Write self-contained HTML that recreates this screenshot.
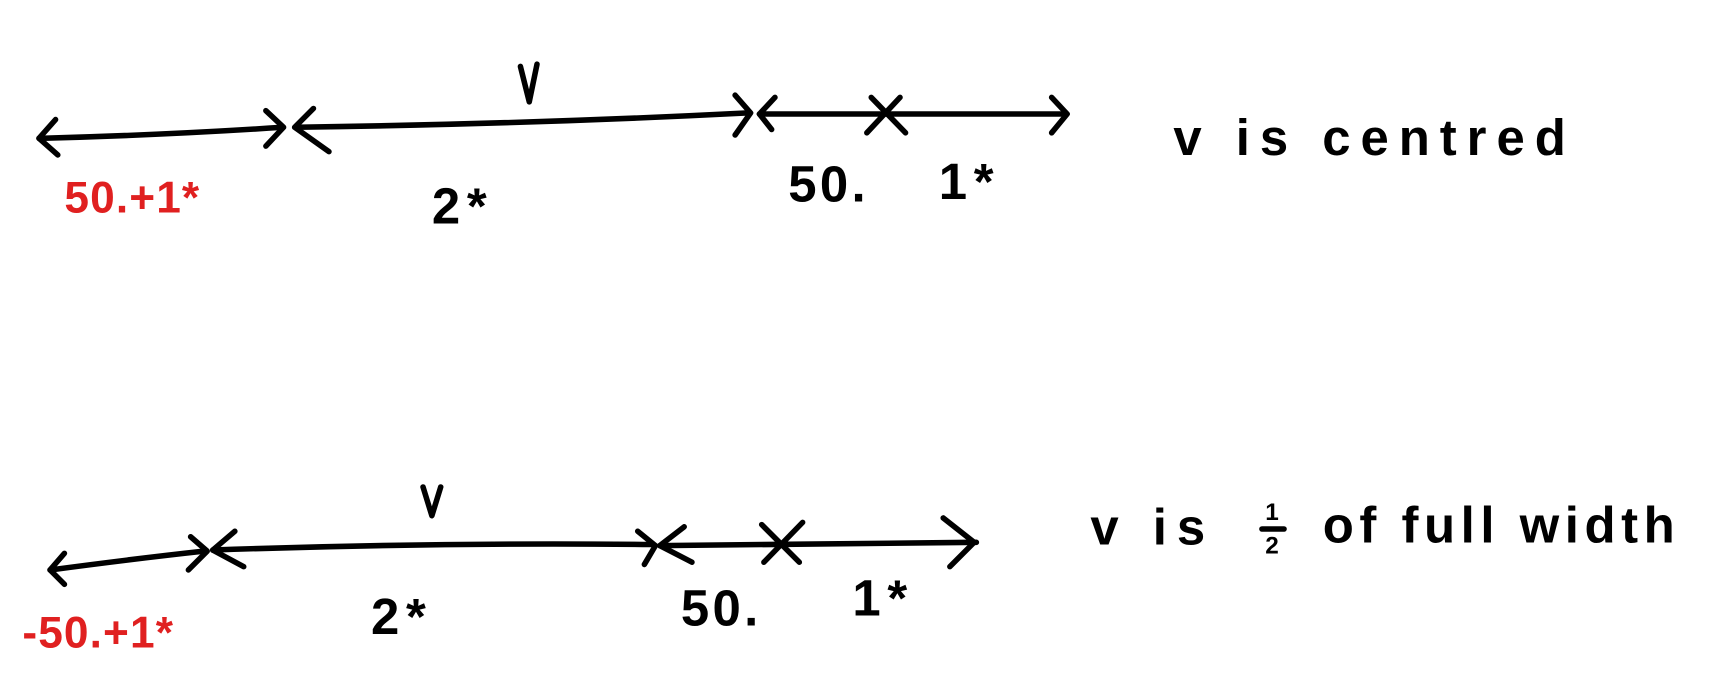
<!DOCTYPE html>
<html><head><meta charset="utf-8"><style>html,body{margin:0;padding:0;background:#fff}svg{display:block}</style></head>
<body>
<svg width="1727" height="674" viewBox="0 0 1560 609" xmlns="http://www.w3.org/2000/svg">
<g fill="none" stroke="#000" stroke-width="5" stroke-linecap="round" stroke-linejoin="round">
<path d="M35 125 Q150 122 255 115"/>
<path d="M50 108 L35 125 L52 140"/>
<path d="M240 100 L256 115 L240 132"/>
<path d="M268 115 Q480 112 676 102"/>
<path d="M283 98 L266 115 L297 137"/>
<path d="M664 86 L678 102 L664 122"/>
<path d="M686 103 L963 103"/>
<path d="M700 88 L686 103 L697 117"/>
<path d="M787 88 L818 120 M813 88 L783 120"/>
<path d="M950 88 L964 103 L950 120"/>
<path d="M470 60 L478 92 L485 58"/>
<path d="M45 515 Q120 505 184 498"/>
<path d="M58 500 L45 515 L58 528"/>
<path d="M172 485 L187 498 L170 515"/>
<path d="M192 497 Q390 490 588 492"/>
<path d="M212 480 L192 497 L220 512"/>
<path d="M576 480 L592 493 L582 510"/>
<path d="M596 493 L882 490"/>
<path d="M618 476 L596 493 L625 508"/>
<path d="M688 474 L722 508 M725 472 L690 508"/>
<path d="M852 468 L880 490 L858 512"/>
<path d="M382 440 L390 466 L398 440"/>
<path d="M1140 478 L1160 478"/>
</g>
<g font-family="Liberation Sans, sans-serif" font-size="46" fill="#000" font-weight="bold">
<text x="1060" y="140" letter-spacing="9">v is centred</text>
<text x="390" y="202" letter-spacing="6">2*</text>
<text x="712" y="182" letter-spacing="3">50.</text>
<text x="848" y="180" letter-spacing="6">1*</text>
<text x="335" y="573" letter-spacing="6">2*</text>
<text x="615" y="565" letter-spacing="3">50.</text>
<text x="770" y="556" letter-spacing="6">1*</text>
<text x="985" y="492" letter-spacing="9">v is</text>
<text x="1143" y="470" font-size="22">1</text>
<text x="1143" y="500" font-size="22">2</text>
<text x="1195" y="490" letter-spacing="5">of full width</text>
</g>
<g font-family="Liberation Sans, sans-serif" font-size="40" fill="#e02020" font-weight="bold">
<text x="58" y="192" letter-spacing="1">50.+1*</text>
<text x="20" y="585" letter-spacing="1">-50.+1*</text>
</g>
</svg>
</body></html>
